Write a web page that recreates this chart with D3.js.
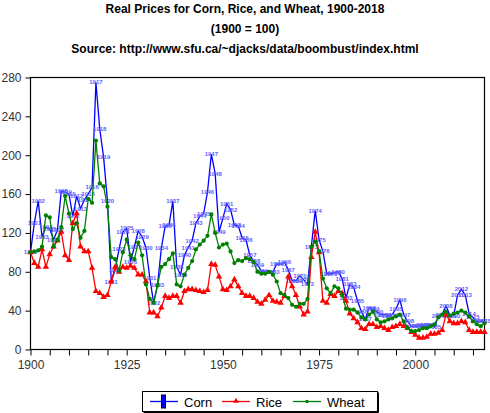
<!DOCTYPE html>
<html>
<head>
<meta charset="utf-8">
<script src="https://cdn.jsdelivr.net/npm/d3@7"></script>
<style>
  body { margin: 0; background: #fff; }
  text { font-family: "Liberation Sans", Arial, sans-serif; }
</style>
</head>
<body>
<div id="chart"></div>
<script>
var titleLines = ['Real Prices for Corn, Rice, and Wheat, 1900-2018', '(1900 = 100)',
  'Source: http://www.sfu.ca/~djacks/data/boombust/index.html'];
var years = d3.range(1900, 2019);
var xTicks = [1900, 1925, 1950, 1975, 2000];
var yTicks = [0, 40, 80, 120, 160, 200, 240, 280];
var seriesNames = ['Corn', 'Rice', 'Wheat'];

var corn = [
  100, 130, 153, 116, 126, 124, 113, 123, 163, 162,
  160, 137, 158, 145, 154, 160, 167, 275, 227, 198,
  153, 70, 82, 103, 121, 125, 90, 106, 122, 116,
  105, 74, 48, 66, 104, 127, 128, 153, 85, 77,
  97, 105, 112, 130, 137, 140, 162, 201, 181, 121,
  135, 150, 144, 128, 127, 115, 113, 97, 91, 87,
  81, 80, 80, 80, 88, 88, 90, 82, 71, 71,
  76, 72, 67, 106, 143, 113, 101, 78, 78, 79,
  80, 73, 53, 67, 64, 50, 39, 31, 43, 42,
  39, 36, 36, 35, 36, 42, 51, 36, 29, 24,
  24, 24, 25, 25, 25, 23, 34, 36, 45, 35,
  35, 56, 62, 56, 37, 33, 29, 29, 29
];
var rice = [
  100, 89, 85, 103, 85, 98, 106, 112, 121, 97,
  92, 130, 140, 106, 101, 101, 84, 60, 58, 54,
  56, 70, 85, 80, 85, 84, 86, 84, 77, 77,
  70, 38, 38, 34, 43, 55, 53, 55, 55, 48,
  60, 62, 62, 61, 60, 59, 61, 88, 87, 75,
  62, 61, 65, 72, 65, 58, 55, 55, 53, 49,
  47, 51, 56, 50, 49, 48, 55, 75, 65, 56,
  44, 36, 39, 95, 121, 100, 50, 48, 57, 55,
  60, 58, 50, 37, 32, 28, 22, 21, 26, 26,
  23, 24, 22, 20, 23, 24, 26, 24, 22, 18,
  15, 12, 12, 13, 16, 16, 17, 20, 36, 29,
  27, 27, 29, 28, 20, 18, 18, 18, 18
];
var wheat = [
  100, 101, 102, 106, 138, 136, 106, 113, 126, 158,
  140, 124, 130, 115, 122, 155, 151, 215, 171, 168,
  147, 95, 93, 81, 100, 113, 97, 93, 110, 97,
  67, 52, 48, 66, 85, 88, 93, 99, 67, 65,
  77, 84, 91, 103, 108, 112, 117, 139, 120, 105,
  108, 109, 101, 89, 92, 91, 94, 93, 90, 80,
  78, 78, 80, 77, 70, 58, 56, 53, 46, 44,
  47, 47, 52, 106, 111, 101, 73, 63, 58, 65,
  63, 56, 42, 41, 41, 38, 33, 31, 36, 39,
  31, 28, 29, 31, 32, 34, 36, 29, 22, 19,
  19, 20, 22, 22, 24, 26, 33, 36, 39, 35,
  37, 38, 40, 38, 34, 29, 26, 24, 27
];

(function() {
  var width = 490, height = 413;
  var left = 30.5, right = 484.5, top = 77.5, bottom = 349.5;

  var svg = d3.select('#chart')
    .append('svg')
    .attr('width', width)
    .attr('height', height);

  var x = d3.scaleLinear().domain([1900, 2018]).range([left, right]);
  var y = d3.scaleLinear().domain([0, 280]).range([bottom, top]);

  // title
  svg.selectAll('text.title')
    .data(titleLines)
    .enter()
    .append('text')
    .attr('class', 'title')
    .attr('x', 245)
    .attr('y', function(d, i) { return 13 + i * 20; })
    .attr('text-anchor', 'middle')
    .style('font-size', '12px')
    .style('font-weight', 'bold')
    .attr('fill', '#000')
    .text(function(d) { return d; });

  // frame
  svg.append('rect')
    .attr('x', left)
    .attr('y', top)
    .attr('width', right - left)
    .attr('height', bottom - top)
    .attr('fill', 'none')
    .attr('stroke', '#000')
    .attr('stroke-width', 1.2);

  var xAxis = d3.axisBottom(x)
    .tickValues(d3.range(1900, 2019, 5))
    .tickSize(6)
    .tickFormat(function(d) { return xTicks.indexOf(d) >= 0 ? d : ''; });
  var gx = svg.append('g')
    .attr('transform', 'translate(0,' + bottom + ')')
    .call(xAxis);
  gx.select('.domain').remove();
  gx.selectAll('text').style('font-size', '12px').attr('fill', '#333').attr('dy', '0.9em');

  var yAxis = d3.axisLeft(y)
    .tickValues(yTicks)
    .tickSize(5)
    .tickPadding(4);
  var gy = svg.append('g')
    .attr('transform', 'translate(' + left + ',0)')
    .call(yAxis);
  gy.select('.domain').remove();
  gy.selectAll('text').style('font-size', '12px').attr('fill', '#333');

  var line = d3.line()
    .x(function(d, i) { return x(years[i]); })
    .y(function(d) { return y(d); });

  var plot = svg.append('g');

  // corn: line with year labels
  plot.append('path')
    .datum(corn)
    .attr('d', line)
    .attr('fill', 'none')
    .attr('stroke', '#0000ff')
    .attr('stroke-width', 1.3);

  plot.selectAll('text.lbl')
    .data(corn)
    .enter()
    .append('text')
    .attr('class', 'lbl')
    .attr('x', function(d, i) { return x(years[i]); })
    .attr('y', function(d) { return y(d) + 2; })
    .attr('text-anchor', 'middle')
    .style('font-size', '6px')
    .style('font-weight', 'bold')
    .attr('fill', '#6060ff')
    .text(function(d, i) { return years[i]; });

  // rice
  plot.append('path')
    .datum(rice)
    .attr('d', line)
    .attr('fill', 'none')
    .attr('stroke', '#ff0000')
    .attr('stroke-width', 1.3);
  plot.selectAll('path.tri')
    .data(rice)
    .enter()
    .append('path')
    .attr('class', 'tri')
    .attr('d', d3.symbol().type(d3.symbolTriangle).size(18))
    .attr('transform', function(d, i) { return 'translate(' + x(years[i]) + ',' + y(d) + ')'; })
    .attr('fill', '#ff0000');

  // wheat
  plot.append('path')
    .datum(wheat)
    .attr('d', line)
    .attr('fill', 'none')
    .attr('stroke', '#008000')
    .attr('stroke-width', 1.3);
  plot.selectAll('path.dot')
    .data(wheat)
    .enter()
    .append('path')
    .attr('class', 'dot')
    .attr('d', d3.symbol().type(d3.symbolCircle).size(14))
    .attr('transform', function(d, i) { return 'translate(' + x(years[i]) + ',' + y(d) + ')'; })
    .attr('fill', '#008000');

  // legend
  var lg = svg.append('g');
  lg.append('rect')
    .attr('x', 142.5).attr('y', 391.5)
    .attr('width', 235).attr('height', 20)
    .attr('fill', '#fff')
    .attr('stroke', '#000');
  lg.append('path')
    .attr('d', 'M143.5,412.5H378.5V392.5')
    .attr('fill', 'none')
    .attr('stroke', '#000');

  var items = [
    {name: seriesNames[0], color: '#0000ff', x: 150},
    {name: seriesNames[1], color: '#ff0000', x: 222},
    {name: seriesNames[2], color: '#008000', x: 293}
  ];
  var it = lg.selectAll('g.item')
    .data(items)
    .enter()
    .append('g')
    .attr('transform', function(d) { return 'translate(' + d.x + ',401.5)'; });
  it.append('line')
    .attr('x1', 0).attr('x2', 28)
    .attr('stroke', function(d) { return d.color; })
    .attr('stroke-width', 1.3);
  it.append('text')
    .attr('x', 34)
    .attr('y', 5)
    .style('font-size', '13px')
    .attr('fill', '#000')
    .text(function(d) { return d.name; });

  lg.append('rect')
    .attr('x', 161.5).attr('y', 395)
    .attr('width', 4).attr('height', 13)
    .attr('fill', '#0000ff')
    .attr('stroke', '#000')
    .attr('stroke-width', 1);
  lg.append('path')
    .attr('d', d3.symbol().type(d3.symbolTriangle).size(14))
    .attr('transform', 'translate(236,401)')
    .attr('fill', '#ff0000');
  lg.append('path')
    .attr('d', d3.symbol().type(d3.symbolCircle).size(10))
    .attr('transform', 'translate(307,401.5)')
    .attr('fill', '#008000');
})();
</script>
</body>
</html>
